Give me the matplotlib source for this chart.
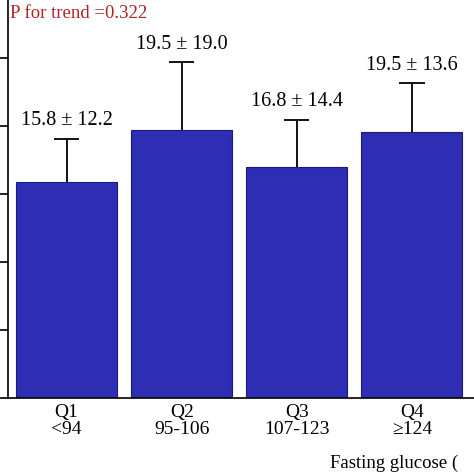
import matplotlib
matplotlib.use("Agg")
import matplotlib.pyplot as plt

groups = ["Q1\n<94", "Q2\n95-106", "Q3\n107-123", "Q4\n≥124"]
means = [15.9, 19.7, 17.0, 19.6]
errs = [3.2, 5.0, 3.5, 3.6]
labels = ["15.8 ± 12.2", "19.5 ± 19.0", "16.8 ± 14.4", "19.5 ± 13.6"]

plt.rcParams['font.family'] = ['Liberation Serif', 'DejaVu Serif']
fig = plt.figure(figsize=(4.74, 4.74), dpi=100)
ax = fig.add_axes([8/474, 76/474, 1 - 8/474, 1 - 76/474])
x = list(range(len(means)))
ax.bar(x, means, width=0.88, color='#2e2eb4', edgecolor='#1a1a80', linewidth=0.8)
tops = [m + e for m, e in zip(means, errs)]
ax.vlines(x, means, tops, color='black', linewidth=1.3)
ax.hlines(tops, [i - 0.11 for i in x], [i + 0.11 for i in x], color='black', linewidth=1.3)
for i, (t, lab) in enumerate(zip(tops, labels)):
    ax.text(i, t + 0.6, lab, ha='center', va='bottom', fontsize=14.5)
ax.set_xlim(-0.51, 3.54)
ax.set_ylim(0, 29.3)
ax.set_yticks([0, 5, 10, 15, 20, 25])
ax.set_yticklabels([])
ax.tick_params(axis='y', direction='out', length=8, width=1.2)
ax.set_xticks(x)
ax.set_xticklabels(groups, fontsize=14, linespacing=1.05)
ax.tick_params(axis='x', length=0, pad=4)
for s in ['top', 'right']:
    ax.spines[s].set_visible(False)
ax.spines['left'].set_linewidth(1.2)
ax.spines['bottom'].set_linewidth(1.2)
fig.text(10/474, 1 - 13/474, "P for trend =0.322", color='#b22222', fontsize=13.5, va='center')
fig.text(330/474, 1 - 463/474, "Fasting glucose (", fontsize=13.5, va='center')
fig.savefig("out.png", dpi=100)
